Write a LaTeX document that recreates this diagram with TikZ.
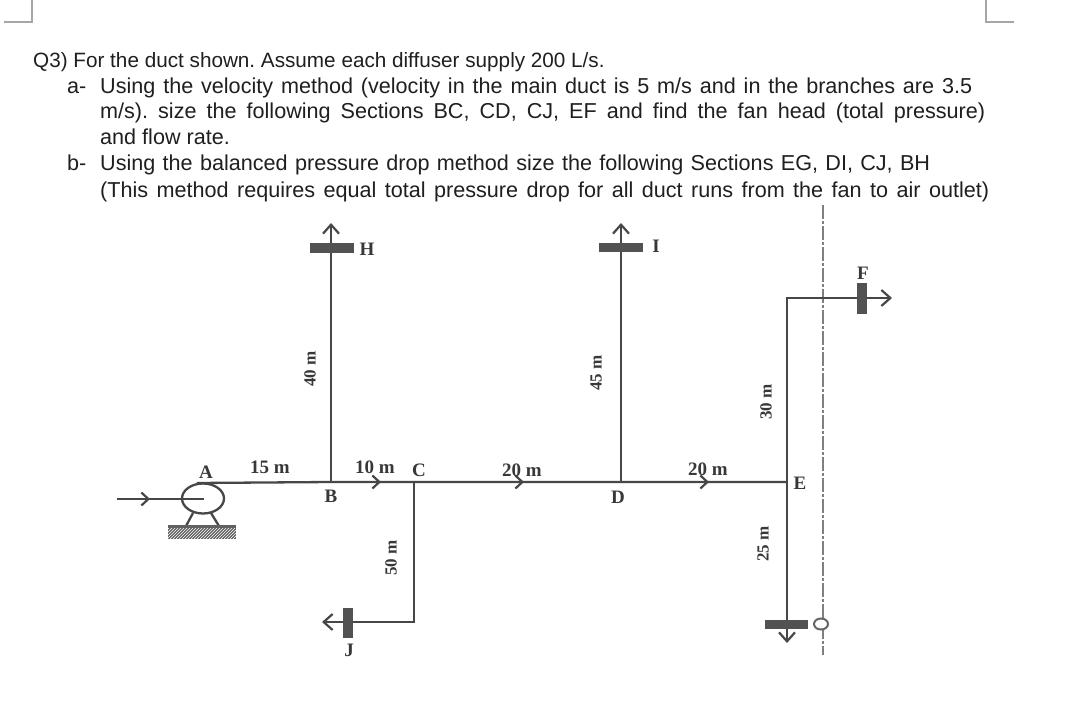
\documentclass[tikz,border=0pt]{standalone}
\usepackage{fontspec}
\setmainfont{Liberation Sans}
\newfontfamily\drawfont{Liberation Serif}
\usetikzlibrary{arrows.meta,patterns,calc}
\definecolor{ductgray}{gray}{0.28}
\tikzset{
  line/.style={anchor=base west,inner sep=0,text=black!88,font=\frenchspacing\fontsize{21.6}{25}\selectfont},
  duct/.style={draw=ductgray,line width=2.3pt},
  flow/.style={draw=ductgray,line width=2.2pt,-{Straight Barb[length=9pt,width=16pt,line width=2.2pt]}},
  mainflow/.style={draw=ductgray,line width=2.2pt,-{Straight Barb[length=7pt,width=13pt,line width=2.2pt]}},
  diffbar/.style={fill=black!68,draw=none},
  lbl/.style={inner sep=0,text=black!78,font=\drawfont\bfseries\fontsize{19}{21}\selectfont},
  rlbl/.style={lbl,rotate=90,font=\drawfont\bfseries\fontsize{17}{19}\selectfont},
  cornermark/.style={draw=black!35,line width=1.2pt},
  centre/.style={draw=black!50,line width=1.1pt,dash pattern=on 14pt off 2pt on 3pt off 2pt}
}
\begin{document}
\begin{tikzpicture}[x=1pt,y=-1pt]
\useasboundingbox (0,0) rectangle (1080,706);
\fill[white] (0,0) rectangle (1080,706);
% page corner marks
\coordinate (tl0) at (4,22); \coordinate (tl1) at (32,22); \coordinate (tl2) at (32,0);
\coordinate (tr0) at (986,0); \coordinate (tr1) at (986,22); \coordinate (tr2) at (1014,22);
\draw[cornermark] (tl0) -- (tl1) -- (tl2);
\draw[cornermark] (tr0) -- (tr1) -- (tr2);
% text
\node[line,font=\frenchspacing\fontsize{20.7}{25}\selectfont] (q) at (33,68) {Q3) For the duct shown. Assume each diffuser supply 200 L/s.};
\node[line] (a) at (67,94) {a-};
\node[line] (a1) at (100,94) {\makebox[872pt][s]{Using the velocity method (velocity in the main duct is 5 m/s and in the branches are 3.5}};
\node[line] (a2) at (100,119) {\makebox[885pt][s]{m/s). size the following Sections BC, CD, CJ, EF and find the fan head (total pressure)}};
\node[line] (a3) at (100,145) {and flow rate.};
\node[line] (b) at (67,171) {b-};
\node[line] (b1) at (100,171) {\makebox[830pt][s]{Using the balanced pressure drop method size the following Sections EG, DI, CJ, BH}};
\node[line] (b2) at (100,197) {\makebox[889pt][s]{(This method requires equal total pressure drop for all duct runs from the fan to air outlet)}};
% junctions
\coordinate (A) at (197,483);
\coordinate (B) at (331,482);
\coordinate (C) at (414,482);
\coordinate (D) at (621,482);
\coordinate (E) at (787,482);
\coordinate (Htip) at (331,223);
\coordinate (Itip) at (621,223);
\coordinate (Fc) at (787,298);
\coordinate (Ftip) at (892,298);
\coordinate (Gtip) at (787,643);
\coordinate (Jc) at (414,622);
\coordinate (Jtip) at (322,622);
\coordinate (inS) at (117,499);
\coordinate (inE) at (204,499);
\coordinate (arBC) at (381,482);
\coordinate (arCD) at (524,482);
\coordinate (arDE) at (709,482);
% centre line
\coordinate (cl0) at (823,205); \coordinate (cl1) at (823,655);
\draw[centre] (cl0) -- (cl1);
% ducts
\draw[duct] (A) -- (B) -- (C) -- (D) -- (E);
\draw[flow] (B) -- (Htip);
\draw[flow] (D) -- (Itip);
\draw[flow] (E) -- (Gtip);
\draw[flow] (E) -- (Fc) -- (Ftip);
\draw[flow] (C) -- (Jc) -- (Jtip);
% direction arrows on the main
\draw[mainflow] (B) -- (arBC);
\draw[mainflow] (C) -- (arCD);
\draw[mainflow] (D) -- (arDE);
% diffusers
\fill[diffbar] (310,243) rectangle (354,253);
\fill[diffbar] (599,243) rectangle (643,252);
\fill[diffbar] (857,283) rectangle (867,314);
\fill[diffbar] (765,620) rectangle (808,629);
\fill[diffbar] (343,608) rectangle (353,638);
% fan
\coordinate (inAr) at (150,499);
\draw[mainflow] (inS) -- (inAr);
\draw[duct] (inS) -- (inE);
\draw[duct] (203,498.5) ellipse [x radius=21, y radius=15];
\draw[duct] (193,513) -- (186,526);
\draw[duct] (211,513) -- (219,526);
\fill[black!62] (168,525) rectangle (236,539);
\fill[pattern=north east lines,pattern color=white] (168,528) rectangle (236,539);
% G circle
\draw[draw=black!60,line width=2pt,fill=white] (821,624) ellipse [x radius=7, y radius=5.5];
% labels
\node[lbl] (lA) at (206,472) {A};
\node[lbl] (lB) at (331,496) {B};
\node[lbl] (lC) at (419,470) {C};
\node[lbl] (lD) at (618,497) {D};
\node[lbl] (lE) at (800,483) {E};
\node[lbl] (lF) at (863,273) {F};
\node[lbl] (lH) at (367,249) {H};
\node[lbl] (lI) at (656,246) {I};
\node[lbl] (lJ) at (349,650) {J};
\node[lbl] (m15) at (270,467) {15 m};
\node[lbl] (m10) at (375,467) {10 m};
\node[lbl] (m20a) at (522,470) {20 m};
\node[lbl] (m20b) at (708,469) {20 m};
\node[rlbl] (m40) at (310,369) {40 m};
\node[rlbl] (m45) at (596,373) {45 m};
\node[rlbl] (m30) at (766,402) {30 m};
\node[rlbl] (m50) at (391,558) {50 m};
\node[rlbl] (m25) at (763,544) {25 m};
\end{tikzpicture}
\end{document}
